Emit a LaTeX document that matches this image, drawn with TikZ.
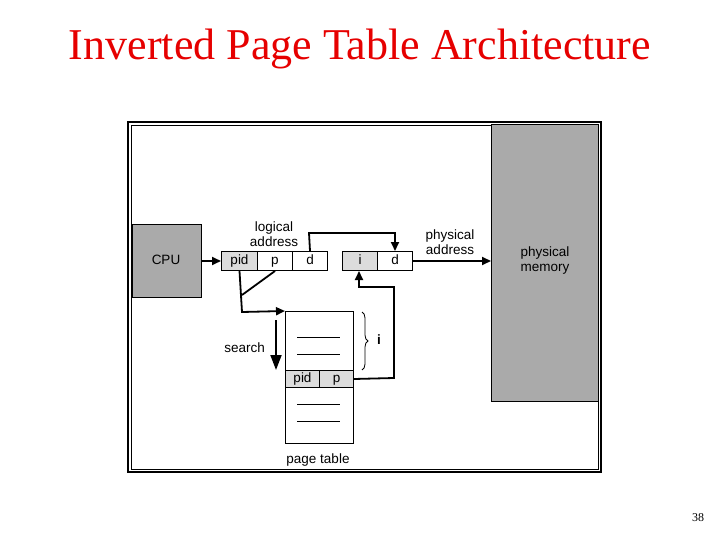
\documentclass[tikz,border=0pt]{standalone}
\usepackage{fontspec}
\setmainfont{Liberation Sans}
\newfontfamily\titlefont{Liberation Serif}
\usetikzlibrary{arrows.meta,decorations.pathreplacing}
\definecolor{boxgray}{RGB}{170,170,170}
\definecolor{cellgray}{RGB}{220,220,220}
\definecolor{titlered}{RGB}{230,0,0}
\begin{document}
\begin{tikzpicture}[x=1pt,y=-1pt,
  lbl/.style={font=\fontsize{13.5}{15}\selectfont,inner sep=0pt,align=center},
  cell/.style={draw,line width=1pt,minimum height=19pt,inner sep=0pt,text height=9.5pt,text depth=2.5pt,font=\fontsize{13.5}{15}\selectfont,anchor=north west},
  arr/.style={-{Triangle[length=9pt,width=8pt]},line width=1.8pt},
  ln/.style={line width=1.8pt}]
\useasboundingbox (0,0) rectangle (720,540);
\node[font=\titlefont\fontsize{44}{46}\selectfont,text=titlered] (title) at (360,49) {Inverted Page Table Architecture};
\node[font=\titlefont\fontsize{12}{14}\selectfont] (num) at (698,518) {38};
% frame
\draw[line width=1.8pt] (128,122) rectangle (601,472);
\draw[line width=0.8pt] (131,125) rectangle (598,469);
% memory
\node[draw,fill=boxgray,line width=1pt,minimum width=107pt,minimum height=277pt,anchor=north west,inner sep=0pt] (mem) at (491,124) {};
\node[lbl] (memt) at (545,261) {physical\\memory};
% CPU
\node[draw,fill=boxgray,line width=1pt,minimum width=69pt,minimum height=73pt,anchor=north west,inner sep=0pt] (cpu) at (132,224) {};
\node[lbl] (cput) at (166,260) {CPU};
% logical
\node[cell,fill=cellgray,minimum width=36pt] (lpid) at (221,251) {pid};
\node[cell,minimum width=35pt] (lp) at (257,251) {p};
\node[cell,minimum width=35pt] (ld) at (292,251) {d};
\node[lbl] (lat) at (274,234) {logical\\address};
% physical
\node[cell,fill=cellgray,minimum width=35pt] (pi) at (342,251) {i};
\node[cell,minimum width=35pt] (pd) at (377,251) {d};
\node[lbl] (pat) at (450,242) {physical\\address};
% page table
\node[draw,line width=1pt,minimum width=68pt,minimum height=132pt,anchor=north west,inner sep=0pt] (pt) at (285,311) {};
\node[cell,fill=cellgray,minimum width=34pt,minimum height=17pt] (tpid) at (285,370) {pid};
\node[cell,fill=cellgray,minimum width=34pt,minimum height=17pt] (tp) at (319,370) {p};
\foreach \yy in {337,354,404,421} \draw[line width=1pt] (297,\yy) -- (340,\yy);
\node[lbl] (ptt) at (318,460) {page table};
% connectors
\draw[arr] (cpu.east |- lpid.west) -- (lpid.west);
\draw[arr] (ld.north) -- (309,233) -- (395,233) -- (pd.north);
\draw[arr] (pd.east) -- (mem.west |- pd.east);
\coordinate (jn) at (242,295);
\draw[ln] (lp.south) -- (jn);
\draw[arr] (lpid.south) -- (242,312) -- (pt.north west);
\draw[arr] (tp.east) -- (394,378) -- (394,287) -- (359,287) -- (pi.south -| 359,0);
\draw[-{Triangle[length=15pt,width=11pt]},line width=1.8pt] (276,320) -- (276,370);
\node[lbl,anchor=east] (st) at (265,348) {search};
\draw[line width=0.8pt,decorate,decoration={brace,amplitude=6pt}] (362,312) -- (362,370);
\node[lbl,font=\bfseries\fontsize{13.5}{15}\selectfont] (it) at (379,340) {i};
\end{tikzpicture}
\end{document}
